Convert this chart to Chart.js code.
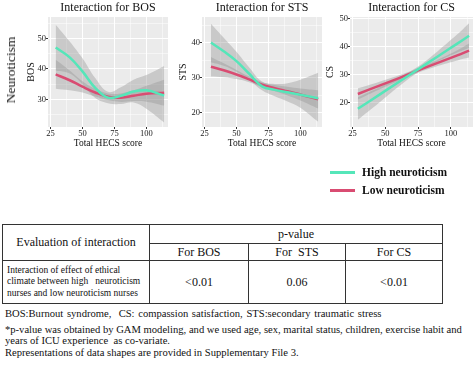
<!DOCTYPE html>
<html>
<head>
<meta charset="utf-8">
<script src="https://cdn.jsdelivr.net/npm/chart.js@4.4.0/dist/chart.umd.min.js"></script>
<style>
  body { margin: 0; background: #fff; font-family: "Liberation Serif", Tinos, "Times New Roman", "DejaVu Serif", serif; color: #111; }
  #wrap { position: relative; width: 474px; height: 365px; overflow: hidden; }
  canvas { position: absolute; top: 0; }
  .neuro { position: absolute; left: 11px; top: 70px; font-size: 13.5px; transform: translate(-50%, -50%) rotate(-90deg); white-space: nowrap; }
  .leg { position: absolute; left: 330px; height: 16px; display: flex; align-items: center; font-weight: bold; font-size: 11.5px; white-space: nowrap; }
  .leg span { display: inline-block; width: 25px; height: 3px; margin-right: 7px; }
  table { position: absolute; left: 2px; top: 224px; width: 441px; border-collapse: collapse; font-size: 12px; }
  td { border: 1px solid #333; text-align: center; padding: 0; }
  td.desc { text-align: left; font-size: 9.5px; line-height: 11.5px; padding-left: 4px; }
  .note { position: absolute; left: 5px; font-size: 10.6px; white-space: nowrap; line-height: 11px; }
</style>
</head>
<body>
<div id="wrap">
  <canvas id="bos" width="170" height="150" style="left:0px"></canvas>
  <canvas id="sts" width="171" height="150" style="left:154px"></canvas>
  <canvas id="cs" width="172" height="150" style="left:302px"></canvas>
  <div class="neuro">Neuroticism</div>

  <div class="leg" style="top:164px"><span style="background:#55e6b9"></span>High neuroticism</div>
  <div class="leg" style="top:182px"><span style="background:#d94c72"></span>Low neuroticism</div>

  <table>
    <tr style="height:19px"><td rowspan="2" style="width:146px">Evaluation of interaction</td><td colspan="3">p-value</td></tr>
    <tr style="height:17px"><td style="width:98px">For BOS</td><td style="width:96px">For &nbsp;STS</td><td>For CS</td></tr>
    <tr style="height:43px"><td class="desc">Interaction of effect of ethical climate between high &nbsp; neuroticism nurses and low neuroticism nurses</td><td>&lt;0.01</td><td>0.06</td><td>&lt;0.01</td></tr>
  </table>

  <div class="note" style="top:308px; word-spacing:1px">BOS:Burnout syndrome, &nbsp;CS: compassion satisfaction, STS:secondary traumatic stress</div>
  <div class="note" style="top:324px">*p-value was obtained by GAM modeling, and we used age, sex, marital status, children, exercise habit and</div>
  <div class="note" style="top:335px">years of ICU experience &nbsp;as co-variate.</div>
  <div class="note" style="top:347px">Representations of data shapes are provided in Supplementary File 3.</div>
</div>

<script>
// x = Total HECS score
const xTicks = [25, 50, 75, 100];

const hecsBos = [29, 40, 50, 60, 70, 80, 90, 100, 114];
const bosHigh = [47, 43.8, 39.2, 33.8, 30.6, 31.2, 32.6, 33, 31.3];
const bosLow = [38.2, 36.3, 34.2, 32.3, 30.9, 30.6, 31.2, 31.9, 32.2];
const bosHighUpper = [54.5, 49, 43.5, 37, 32.5, 34, 36.5, 38, 41];
const bosHighLower = [39.5, 38.5, 35, 30.5, 28.8, 28.5, 29, 27, 22.5];
const bosLowUpper = [43, 39.5, 36, 33.5, 32, 32, 33, 34.5, 36.5];
const bosLowLower = [33.5, 33, 32.3, 31, 29.8, 29.2, 29.5, 29.3, 28];
const bosTicks = [30, 40, 50];

const hecsSts = [30, 40, 50, 60, 70, 80, 90, 100, 114];
const stsHigh = [40.1, 37.6, 34.8, 31.2, 27.6, 26.6, 25.9, 25.2, 24.2];
const stsLow = [33.2, 32.2, 31, 29.6, 28.1, 27.1, 26.2, 25.3, 23.9];
const stsHighUpper = [45.5, 41.5, 37.5, 33, 29, 28.3, 28.5, 29.5, 31.5];
const stsHighLower = [34.5, 33.5, 31.8, 29.5, 26.5, 24.8, 23.3, 21.5, 17.5];
const stsLowUpper = [36, 34.2, 32.3, 30.4, 28.8, 28, 27.5, 27, 26.5];
const stsLowLower = [30.4, 30.2, 29.7, 28.8, 27.4, 26.2, 25, 23.6, 21.3];
const stsTicks = [20, 30, 40];

const hecsCs = [29, 45, 60, 75, 90, 105, 114];
const csHigh = [17.9, 22.8, 27.4, 32, 36.6, 41.2, 44];
const csLow = [23.2, 26.1, 28.8, 31.6, 34.3, 37, 38.7];
const csHighUpper = [22, 25.5, 29, 33, 38.5, 44.5, 48.5];
const csHighLower = [14, 20, 25.8, 31, 34.8, 38, 39.6];
const csLowUpper = [25.2, 27.5, 29.8, 32.4, 35.4, 38.8, 41.2];
const csLowLower = [21.2, 24.7, 27.8, 30.8, 33.2, 35.2, 36.2];
const csTicks = [20, 30, 40, 50];

const HIGH = "#55e6b9";
const LOW = "#d94c72";
const BAND = "rgba(150,150,150,0.4)";
const SERIF = "'Liberation Serif', Tinos, 'Times New Roman', 'DejaVu Serif', serif";

const bgPlugin = {
    id: "panelBg",
    beforeDraw(chart) {
        const a = chart.chartArea;
        chart.ctx.save();
        chart.ctx.fillStyle = "#ebebeb";
        chart.ctx.fillRect(a.left, a.top, a.right - a.left, a.bottom - a.top);
        chart.ctx.restore();
    }
};

const titlePlugin = {
    id: "panelTitle",
    afterDraw(chart, args, opts) {
        const a = chart.chartArea;
        const ctx = chart.ctx;
        ctx.save();
        ctx.font = "12px " + SERIF;
        ctx.fillStyle = "#111";
        ctx.textAlign = "center";
        ctx.textBaseline = "middle";
        ctx.fillText(opts.text, (a.left + a.right) / 2, 8);
        ctx.restore();
    }
};

function pts(xs, ys) {
    return xs.map((x, i) => ({ x: x, y: ys[i] }));
}

// major ticks plus halfway minor grid lines inside the range
function withMinor(major, min, max) {
    const step = major[1] - major[0];
    const out = [];
    for (let v = major[0] - step / 2 * 3; v <= max; v += step / 2) {
        if (v >= min && v <= max) out.push({ value: v, minor: !major.includes(v) });
    }
    return out;
}

function axisCommon() {
    return {
        grid: {
            color: "#fff",
            lineWidth: c => (c.tick && c.tick.minor) ? 0.5 : 1,
            tickColor: c => (c.tick && c.tick.minor) ? "rgba(0,0,0,0)" : "#333",
            tickLength: 2
        },
        border: { display: false },
        ticks: {
            autoSkip: false,
            maxRotation: 0,
            padding: 0,
            color: "#222",
            font: { family: SERIF, size: 8.5 },
            callback: function (v, i, t) { return t[i].minor ? "" : v; }
        }
    };
}

function makePanel(id, cfg) {
    const line = (data, color) => ({
        data: data, borderColor: color, borderWidth: 2.5, pointRadius: 0, tension: 0.4, fill: false
    });
    const band = (data, fill) => ({
        data: data, borderColor: "rgba(0,0,0,0)", borderWidth: 0, pointRadius: 0, tension: 0.4,
        fill: fill, backgroundColor: BAND
    });
    const xAxis = axisCommon();
    Object.assign(xAxis, {
        type: "linear", min: 23, max: 117,
        title: { display: true, text: "Total HECS score", color: "#111", font: { family: SERIF, size: 9.5 }, padding: { top: 0, bottom: 1 } },
        afterBuildTicks: s => { s.ticks = withMinor(xTicks, 23, 117); },
        afterFit: s => { s.height = 23; }
    });
    const yAxis = axisCommon();
    Object.assign(yAxis, {
        min: cfg.ymin, max: cfg.ymax,
        title: { display: true, text: cfg.ylabel, color: "#111", font: { family: SERIF, size: 10 }, padding: { top: cfg.ytitlePad, bottom: 0 } },
        afterBuildTicks: s => { s.ticks = withMinor(cfg.yticks, cfg.ymin, cfg.ymax); },
        afterFit: s => { s.width = 48; }
    });

    new Chart(document.getElementById(id), {
        type: "line",
        data: {
            datasets: [
                line(pts(cfg.x, cfg.high), HIGH),
                line(pts(cfg.x, cfg.low), LOW),
                band(pts(cfg.x, cfg.highUp), "+1"),
                band(pts(cfg.x, cfg.highLo), false),
                band(pts(cfg.x, cfg.lowUp), "+1"),
                band(pts(cfg.x, cfg.lowLo), false)
            ]
        },
        options: {
            responsive: false,
            animation: false,
            layout: { padding: { top: 17, right: cfg.padRight, bottom: 0, left: 0 } },
            plugins: { legend: { display: false }, tooltip: { enabled: false }, panelTitle: { text: cfg.title } },
            scales: { x: xAxis, y: yAxis }
        },
        plugins: [bgPlugin, titlePlugin]
    });
}

makePanel("bos", {
    title: "Interaction for BOS", ylabel: "BOS", ymin: 21, ymax: 57, yticks: bosTicks, ytitlePad: 25, padRight: 2,
    x: hecsBos, high: bosHigh, low: bosLow,
    highUp: bosHighUpper, highLo: bosHighLower, lowUp: bosLowUpper, lowLo: bosLowLower
});
makePanel("sts", {
    title: "Interaction for STS", ylabel: "STS", ymin: 16, ymax: 47.4, yticks: stsTicks, ytitlePad: 23, padRight: 3,
    x: hecsSts, high: stsHigh, low: stsLow,
    highUp: stsHighUpper, highLo: stsHighLower, lowUp: stsLowUpper, lowLo: stsLowLower
});
makePanel("cs", {
    title: "Interaction for CS", ylabel: "CS", ymin: 11.4, ymax: 50.7, yticks: csTicks, ytitlePad: 22, padRight: 1,
    x: hecsCs, high: csHigh, low: csLow,
    highUp: csHighUpper, highLo: csHighLower, lowUp: csLowUpper, lowLo: csLowLower
});
</script>
</body>
</html>
